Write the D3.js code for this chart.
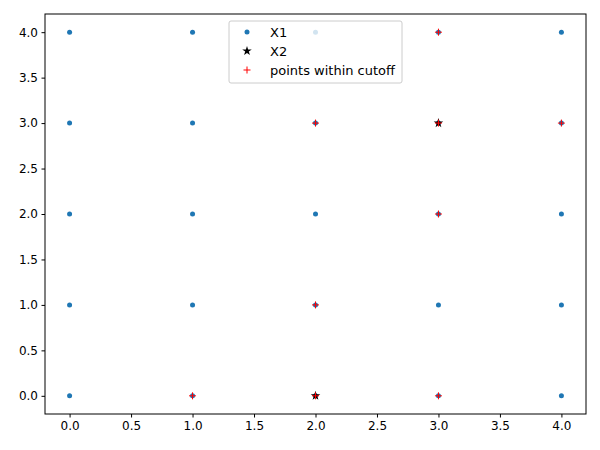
<!DOCTYPE html>
<html>
<head>
<meta charset="utf-8">
<script src="https://cdn.jsdelivr.net/npm/d3@7"></script>
<style>
  body { margin: 0; background: #fff; }
  text { font-family: "DejaVu Sans", sans-serif; }
</style>
</head>
<body>
<svg id="chart" width="600" height="450"></svg>
<script>
// Grid of X1 points
const gridValues = [0, 1, 2, 3, 4];
const x1Points = gridValues.flatMap((xv) => gridValues.map((yv) => [xv, yv]));
const x2Points = [[3, 3], [2, 0]];
const cutoffPoints = [[3, 4], [2, 3], [3, 3], [4, 3], [3, 2], [2, 1], [1, 0], [2, 0], [3, 0]];
const xTicks = [0, 0.5, 1, 1.5, 2, 2.5, 3, 3.5, 4];
const yTicks = [0, 0.5, 1, 1.5, 2, 2.5, 3, 3.5, 4];
const legendLabels = ["X1", "X2", "points within cutoff"];

const margin = {top: 14, right: 14, bottom: 36, left: 45};
const width = 600, height = 450;
const innerWidth = width - margin.left - margin.right;
const innerHeight = height - margin.top - margin.bottom;

const svg = d3.select("#chart");
const g = svg.append("g").attr("transform", `translate(${margin.left}, ${margin.top})`);

const xScale = d3.scaleLinear().domain([-0.2, 4.2]).range([0, innerWidth]);
const yScale = d3.scaleLinear().domain([-0.2, 4.2]).range([innerHeight, 0]);

// Axes
const xAxis = d3.axisBottom(xScale).tickValues(xTicks).tickFormat(d3.format(".1f")).tickSizeInner(3.5).tickSizeOuter(0).tickPadding(3.5);
const yAxis = d3.axisLeft(yScale).tickValues(yTicks).tickFormat(d3.format(".1f")).tickSizeInner(3.5).tickSizeOuter(0).tickPadding(3.5);
g.append("g").attr("transform", `translate(0, ${innerHeight})`).call(xAxis)
  .call((a) => a.select(".domain").remove())
  .selectAll("text").attr("font-size", 12).attr("fill", "#000");
g.append("g").call(yAxis)
  .call((a) => a.select(".domain").remove())
  .selectAll("text").attr("font-size", 12).attr("fill", "#000");
g.append("rect").attr("width", innerWidth).attr("height", innerHeight)
  .attr("fill", "none").attr("stroke", "#000").attr("stroke-width", 1);

const star = d3.symbol().type(d3.symbolStar).size(28);

// X1
g.append("g").selectAll("circle").data(x1Points).join("circle")
  .attr("cx", (d) => xScale(d[0])).attr("cy", (d) => yScale(d[1]))
  .attr("r", 2.5).attr("fill", "#1f77b4");
// X2
g.append("g").selectAll("path").data(x2Points).join("path")
  .attr("transform", (d) => `translate(${xScale(d[0])}, ${yScale(d[1])})`)
  .attr("d", star).attr("fill", "#000");
// cutoff
const plus = "M-3.5,0H3.5M0,-3.5V3.5";
g.append("g").selectAll("path").data(cutoffPoints).join("path")
  .attr("transform", (d) => `translate(${xScale(d[0])}, ${yScale(d[1])})`)
  .attr("d", plus).attr("stroke", "red").attr("stroke-width", 1).attr("fill", "none");

// Legend
const lg = svg.append("g").attr("transform", "translate(229, 21)");
lg.append("rect").attr("width", 173).attr("height", 62).attr("rx", 2)
  .attr("fill", "#fff").attr("fill-opacity", 0.8).attr("stroke", "#ccc");
legendLabels.forEach((label, i) => {
  const cy = 11 + i * 19;
  const row = lg.append("g").attr("transform", `translate(18, ${cy})`);
  if (i === 0) row.append("circle").attr("r", 2.5).attr("fill", "#1f77b4");
  if (i === 1) row.append("path").attr("d", star).attr("fill", "#000");
  if (i === 2) row.append("path").attr("d", plus).attr("stroke", "red").attr("fill", "none");
  lg.append("text").attr("x", 41).attr("y", cy + 4.5).attr("font-size", 13).text(label);
});
</script>
</body>
</html>
